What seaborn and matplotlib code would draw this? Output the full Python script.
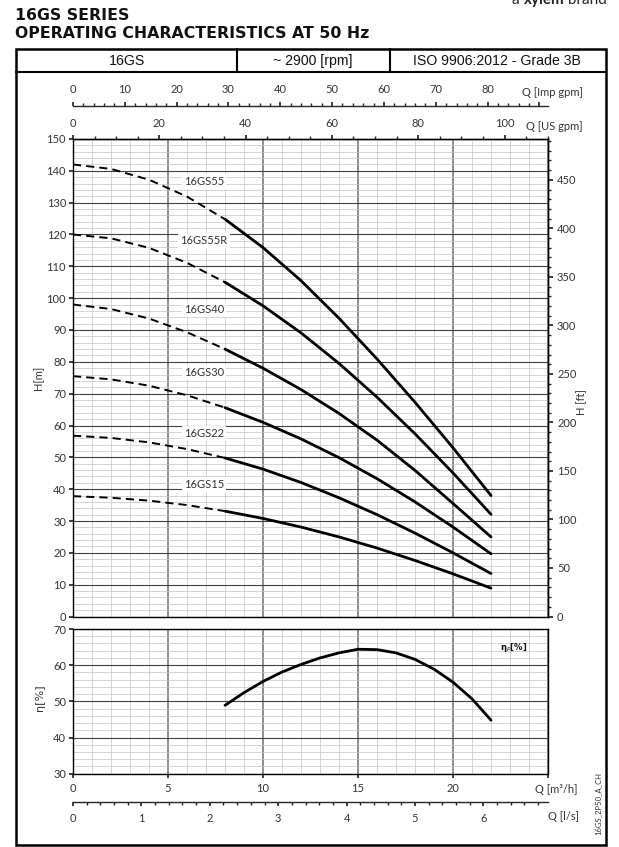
import numpy as np
import pandas as pd
import seaborn as sns
import matplotlib
matplotlib.use("Agg")
import matplotlib.pyplot as plt
from matplotlib.patches import Rectangle
from matplotlib.lines import Line2D
from matplotlib.ticker import MultipleLocator, FuncFormatter

# ---------------- data ----------------
Q = [0, 2, 4, 6, 8, 10, 12, 14, 16, 18, 20, 22]          # m3/h
H_16GS55 = [142, 140.6, 137.2, 131.9, 124.8, 115.9, 105.5, 93.7, 80.9, 67.3, 53.0, 38.0]
H_16GS55R = [120, 118.8, 115.8, 111.1, 105.0, 97.6, 89.1, 79.5, 68.9, 57.4, 45.1, 32.1]
H_16GS40 = [98, 96.6, 93.6, 89.3, 84.0, 78.0, 71.3, 63.8, 55.4, 45.9, 35.5, 25.0]
H_16GS30 = [75.5, 74.5, 72.5, 69.5, 65.6, 61.0, 55.8, 49.9, 43.3, 36.0, 28.1, 19.7]
H_16GS22 = [56.8, 56.1, 54.7, 52.6, 49.8, 46.3, 42.1, 37.3, 32.0, 26.2, 20.0, 13.5]
H_16GS15 = [37.8, 37.3, 36.4, 35.0, 33.1, 30.8, 28.1, 25.0, 21.5, 17.6, 13.4, 8.9]
models = ["16GS55", "16GS55R", "16GS40", "16GS30", "16GS22", "16GS15"]
heads = [H_16GS55, H_16GS55R, H_16GS40, H_16GS30, H_16GS22, H_16GS15]
Q_split = 8  # dashed below, solid above

Q_eff = [8, 9, 10, 11, 12, 13, 14, 15, 16, 17, 18, 19, 20, 21, 22]
eta = [48.9, 52.4, 55.5, 58.1, 60.2, 62.0, 63.4, 64.4, 64.3, 63.4, 61.6, 58.9, 55.3, 50.7, 44.8]

label_Q = 6.9
label_H = [136.6, 118.0, 96.5, 76.7, 57.6, 41.4]

header = ["16GS", "~ 2900 [rpm]", "ISO 9906:2012 - Grade 3B"]
title1 = "16GS SERIES"
title2 = "OPERATING CHARACTERISTICS AT 50 Hz"
brand = ["a ", "xylem", " brand"]

# ---------------- style ----------------
sns.set_theme(style="white")
plt.rcParams["font.family"] = ["Lato", "DejaVu Sans"]
plt.rcParams["axes.linewidth"] = 1.0

W, HP = 619, 847
fig = plt.figure(figsize=(W / 100, HP / 100), dpi=100)

def X(px):
    return px / W

def Y(py):
    return 1 - py / HP

def limited(lo, hi):
    return FuncFormatter(lambda v, p: (f"{v:g}" if lo - 1e-6 <= v <= hi + 1e-6 else ""))

TXT = "#333333"
MAJ_X = "#707070"
MAJ_Y = "#404040"
MIN_C = "#c4c4c4"

# ---------------- frame & header ----------------
fig.patches.append(Rectangle((X(16), Y(845)), X(606) - X(16), Y(49) - Y(845),
                             transform=fig.transFigure, fill=False, ec="black", lw=1.8))
fig.lines.append(Line2D([X(16), X(606)], [Y(72), Y(72)], transform=fig.transFigure, color="black", lw=1.5))
for xp in (237, 390):
    fig.lines.append(Line2D([X(xp), X(xp)], [Y(49), Y(72)], transform=fig.transFigure, color="black", lw=1.5))
for xc, t in zip((127, 313, 497), header):
    fig.text(X(xc), Y(61), t, ha="center", va="center", fontsize=10.2,
             family=["Liberation Sans", "DejaVu Sans"], color="#111111")

fig.text(X(15), Y(20), title1, ha="left", va="baseline", fontsize=11.3,
         fontweight="bold", family=["DejaVu Sans"], color="#111111")
fig.text(X(15), Y(37.5), title2, ha="left", va="baseline", fontsize=11.3,
         fontweight="bold", family=["DejaVu Sans"], color="#111111")

# brand line at the very top right (cut by the page edge as in the source)
renderer = fig.canvas.get_renderer()
weights = ["normal", "bold", "normal"]
widths = []
tmp = []
for part, wgt in zip(brand, weights):
    t = fig.text(0, 0, part, fontsize=11, fontweight=wgt, va="baseline")
    widths.append(t.get_window_extent(renderer=renderer).width)
    tmp.append(t)
for t in tmp:
    t.remove()
xcur = 607 - sum(widths)
for part, wgt, wd in zip(brand, weights, widths):
    fig.text(X(xcur), Y(4), part, ha="left", va="baseline", fontsize=11,
             fontweight=wgt, color="#222222")
    xcur += wd

# ---------------- H-Q axes ----------------
ax1 = fig.add_axes([X(73), Y(616.5), X(548) - X(73), Y(139) - Y(616.5)])
ax1.set_xlim(0, 25)
ax1.set_ylim(0, 150)
ax1.set_axisbelow(True)
ax1.xaxis.set_major_locator(MultipleLocator(5))
ax1.xaxis.set_minor_locator(MultipleLocator(1))
ax1.yaxis.set_major_locator(MultipleLocator(10))
ax1.yaxis.set_minor_locator(MultipleLocator(2))
ax1.grid(which="minor", color=MIN_C, lw=0.5)
ax1.grid(which="major", axis="x", color=MAJ_X, lw=1.1)
ax1.grid(which="major", axis="y", color=MAJ_Y, lw=0.8)
ax1.tick_params(axis="x", which="both", length=0, labelbottom=False)
ax1.tick_params(axis="y", which="major", direction="out", length=3, left=True,
                labelsize=8, labelcolor=TXT, pad=2)
ax1.tick_params(axis="y", which="minor", length=0)
for s in ax1.spines.values():
    s.set_color("black")
    s.set_linewidth(1.0)

for name, h in zip(models, heads):
    qa = np.array(Q, dtype=float)
    ha_ = np.array(h, dtype=float)
    m_d = qa <= Q_split
    m_s = qa >= Q_split
    sns.lineplot(x=qa[m_d], y=ha_[m_d], ax=ax1, color="black", lw=1.4,
                 linestyle=(0, (4.2, 2.6)), zorder=4)
    sns.lineplot(x=qa[m_s], y=ha_[m_s], ax=ax1, color="black", lw=2.0, zorder=4)

for name, hl in zip(models, label_H):
    ax1.text(label_Q, hl, name, ha="center", va="center", fontsize=8, color=TXT,
             bbox=dict(fc="white", ec="none", pad=1.5), zorder=3)
ax1.set_xlabel("")
ax1.set_ylabel("")

# right: H [ft]
secy = ax1.secondary_yaxis("right", functions=(lambda m: m * 3.28084, lambda f: f / 3.28084))
secy.yaxis.set_major_locator(MultipleLocator(50))
secy.yaxis.set_minor_locator(MultipleLocator(10))
secy.yaxis.set_major_formatter(limited(0, 450))
secy.tick_params(which="major", direction="out", length=3.5, labelsize=8, labelcolor=TXT, pad=3)
secy.tick_params(which="minor", direction="out", length=2)

# top: US gpm
sec_us = ax1.secondary_xaxis("top", functions=(lambda q: q * 4.40287, lambda g: g / 4.40287))
sec_us.xaxis.set_major_locator(MultipleLocator(20))
sec_us.xaxis.set_minor_locator(MultipleLocator(5))
sec_us.xaxis.set_major_formatter(limited(0, 100))
sec_us.tick_params(which="major", direction="out", length=3, labelsize=8, labelcolor=TXT, pad=4)
sec_us.tick_params(which="minor", direction="out", length=2)

# top: Imp gpm (separate scale line)
sec_imp = ax1.secondary_xaxis(1 + (139 - 106) / 477.5,
                              functions=(lambda q: q * 3.66615, lambda g: g / 3.66615))
sec_imp.xaxis.set_major_locator(MultipleLocator(10))
sec_imp.xaxis.set_minor_locator(MultipleLocator(2))
sec_imp.xaxis.set_major_formatter(limited(0, 80))
sec_imp.tick_params(which="major", direction="out", length=3, labelsize=8, labelcolor=TXT, pad=5)
sec_imp.tick_params(which="minor", direction="out", length=2)

# ---------------- efficiency axes ----------------
ax2 = fig.add_axes([X(73), Y(773.7), X(548) - X(73), Y(629) - Y(773.7)])
ax2.set_xlim(0, 25)
ax2.set_ylim(30, 70)
ax2.set_axisbelow(True)
ax2.xaxis.set_major_locator(MultipleLocator(5))
ax2.xaxis.set_minor_locator(MultipleLocator(1))
ax2.xaxis.set_major_formatter(limited(0, 20))
ax2.yaxis.set_major_locator(MultipleLocator(10))
ax2.yaxis.set_minor_locator(MultipleLocator(2))
ax2.grid(which="minor", color=MIN_C, lw=0.5)
ax2.grid(which="major", axis="x", color=MAJ_X, lw=1.1)
ax2.grid(which="major", axis="y", color=MAJ_Y, lw=0.8)
ax2.tick_params(axis="x", which="major", direction="out", length=3, bottom=True,
                labelsize=8, labelcolor=TXT, pad=4)
ax2.tick_params(axis="x", which="minor", length=0)
ax2.tick_params(axis="y", which="major", direction="out", length=3, left=True,
                labelsize=8, labelcolor=TXT, pad=2)
ax2.tick_params(axis="y", which="minor", length=0)
for s in ax2.spines.values():
    s.set_color("black")
    s.set_linewidth(1.0)
sns.lineplot(x=Q_eff, y=eta, ax=ax2, color="black", lw=2.0, zorder=4)
ax2.set_xlabel("")
ax2.set_ylabel("")

sec_ls = ax2.secondary_xaxis(-(802 - 773.7) / 144.7, functions=(lambda q: q / 3.6, lambda l: l * 3.6))
sec_ls.xaxis.set_major_locator(MultipleLocator(1))
sec_ls.xaxis.set_minor_locator(MultipleLocator(0.2))
sec_ls.xaxis.set_major_formatter(limited(0, 6))
sec_ls.tick_params(which="major", direction="out", length=3, labelsize=8, labelcolor=TXT, pad=5)
sec_ls.tick_params(which="minor", direction="out", length=2)

# ---------------- axis titles ----------------
fs = 8
fig.text(X(522), Y(92), "Q [Imp gpm]", ha="left", va="center", fontsize=fs, color=TXT)
fig.text(X(526), Y(126), "Q [US gpm]", ha="left", va="center", fontsize=fs, color=TXT)
fig.text(X(39), Y(378), "H[m]", ha="center", va="center", rotation=90, fontsize=fs, color=TXT)
fig.text(X(582), Y(402), "H [ft]", ha="center", va="center", rotation=90, fontsize=fs, color=TXT)
fig.text(X(40), Y(698), "η[%]", ha="center", va="center", rotation=90, fontsize=fs,
         color=TXT, family=["DejaVu Sans"])
fig.text(X(500), Y(647), r"η$_{P}$[%]", ha="left", va="center", fontsize=6,
         fontweight="bold", color="#111111", family=["DejaVu Sans"])
fig.text(X(535), Y(789), "Q [m³/h]", ha="left", va="center", fontsize=fs, color=TXT)
fig.text(X(548), Y(816), "Q [l/s]", ha="left", va="center", fontsize=fs, color=TXT)
fig.text(X(598), Y(803), "16GS_2P50_A_CH", ha="center", va="center", rotation=90,
         fontsize=5.5, color=TXT)

fig.savefig("out.png", dpi=100)
